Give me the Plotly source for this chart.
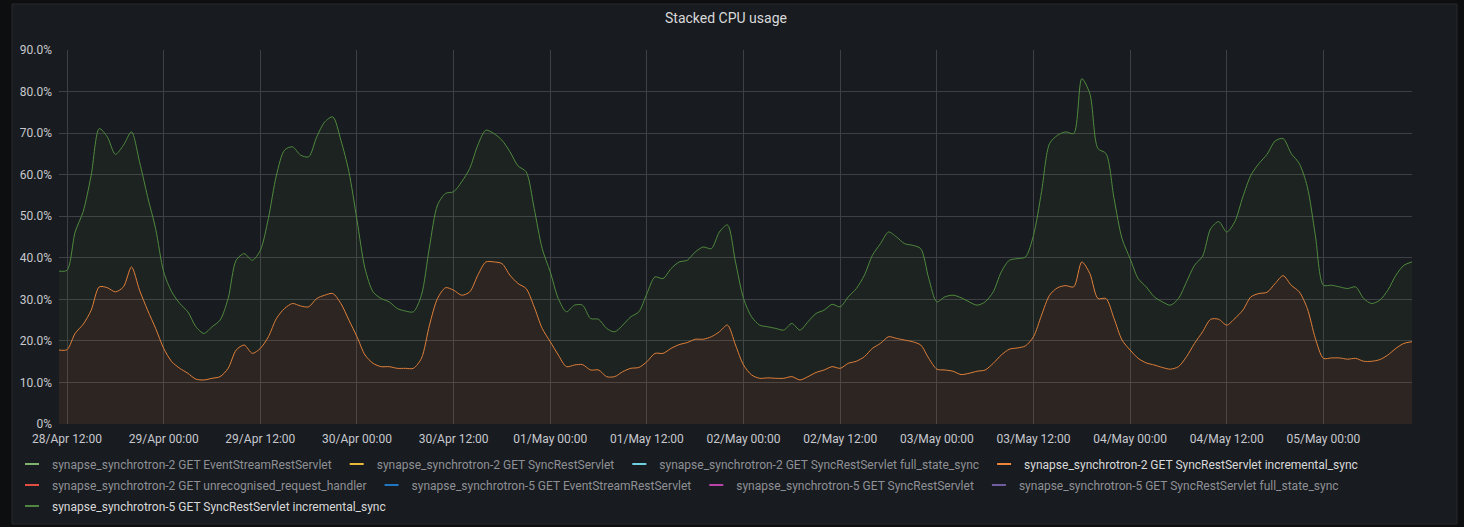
import pandas as pd
import plotly.graph_objects as go

# hourly samples, 28/Apr 11:00 -> 05/May 11:00
times = pd.date_range("2021-04-28 11:00", periods=169, freq="h")

# synapse_synchrotron-2 GET SyncRestServlet incremental_sync (bottom, orange)
sync2_incremental = [
    17.8, 17.9, 21.8, 24.0, 27.4, 33.0, 32.8, 31.8, 33.0, 37.8, 32.2, 27.4, 23.0, 18.2, 15.0, 13.4,
    12.2, 10.8, 10.6, 11.0, 11.4, 13.4, 17.8, 19.0, 17.0, 18.2, 21.0, 25.4, 27.8, 29.0, 28.4, 28.2,
    30.2, 31.0, 31.4, 29.0, 25.0, 21.0, 16.6, 14.6, 13.8, 13.8, 13.4, 13.4, 13.4, 15.8, 23.8, 30.2,
    32.8, 32.2, 31.0, 31.8, 35.8, 39.0, 39.0, 38.6, 35.8, 33.8, 32.6, 28.2, 23.0, 19.8, 16.6, 13.8,
    14.2, 14.3, 13.0, 13.0, 11.4, 11.4, 12.6, 13.4, 13.6, 15.0, 17.0, 17.0, 18.2, 19.1, 19.6, 20.4,
    20.4, 21.0, 22.2, 23.8, 19.0, 14.2, 11.8, 11.0, 11.1, 11.0, 11.0, 11.4, 10.6, 11.4, 12.4, 13.0,
    13.8, 13.4, 14.6, 15.1, 16.2, 18.2, 19.4, 21.0, 20.6, 20.2, 19.8, 19.0, 15.8, 13.2, 13.0, 12.7,
    11.9, 12.2, 12.7, 13.0, 14.6, 16.6, 18.0, 18.3, 18.8, 21.0, 26.2, 31.0, 32.8, 33.3, 33.0, 39.0,
    36.2, 30.2, 30.2, 25.4, 20.2, 17.8, 15.8, 14.7, 14.2, 13.6, 13.2, 13.8, 16.2, 19.4, 22.2, 25.2,
    25.2, 23.8, 25.4, 27.4, 30.6, 31.4, 31.7, 33.8, 35.7, 33.4, 31.8, 27.8, 20.6, 15.8, 15.9, 15.9,
    15.6, 15.8, 15.1, 15.1, 15.5, 16.6, 18.2, 19.4, 19.8,
]

# synapse_synchrotron-5 GET SyncRestServlet incremental_sync (stacked on top, green)
sync5_incremental = [
    19.0, 19.1, 24.4, 27.1, 32.5, 38.1, 36.3, 33.1, 34.1, 32.5, 30.9, 27.3, 24.0, 18.4, 16.8, 15.6,
    14.8, 12.6, 11.2, 12.4, 13.6, 16.8, 21.6, 22.0, 22.4, 23.6, 28.5, 34.5, 38.1, 37.7, 36.3, 36.1,
    38.9, 41.7, 42.5, 39.3, 35.7, 28.1, 20.8, 17.2, 16.4, 15.6, 14.4, 13.8, 13.6, 15.2, 18.8, 22.5,
    22.7, 23.7, 27.3, 29.7, 31.3, 31.7, 30.9, 29.7, 29.7, 28.3, 28.1, 23.7, 19.2, 16.8, 13.6, 13.2,
    14.4, 14.3, 12.4, 12.2, 11.6, 10.8, 11.2, 12.4, 13.4, 16.4, 18.4, 18.0, 19.2, 19.9, 19.8, 21.0,
    22.2, 21.2, 24.0, 24.1, 20.0, 16.0, 14.0, 12.8, 12.3, 12.0, 11.6, 12.8, 12.0, 13.2, 14.2, 14.4,
    15.0, 14.8, 16.0, 17.5, 19.6, 22.4, 24.0, 25.2, 24.4, 23.2, 23.2, 23.2, 19.2, 16.2, 17.6, 18.3,
    18.5, 17.2, 15.9, 16.4, 17.2, 20.0, 21.4, 21.5, 21.4, 24.4, 29.7, 36.5, 36.7, 37.0, 36.9, 44.1,
    43.3, 36.1, 34.9, 28.9, 24.4, 22.0, 19.2, 18.3, 16.4, 15.8, 15.4, 16.4, 18.0, 18.8, 18.2, 21.8,
    23.5, 22.4, 23.3, 27.3, 29.3, 31.3, 33.2, 34.3, 33.0, 31.7, 30.9, 29.3, 24.8, 17.6, 17.5, 17.1,
    17.0, 17.2, 15.1, 13.9, 14.3, 15.6, 17.6, 18.8, 19.2,
]

legend_names = [
    "synapse_synchrotron-2 GET EventStreamRestServlet",
    "synapse_synchrotron-2 GET SyncRestServlet",
    "synapse_synchrotron-2 GET SyncRestServlet full_state_sync",
    "synapse_synchrotron-2 GET SyncRestServlet incremental_sync",
    "synapse_synchrotron-2 GET unrecognised_request_handler",
    "synapse_synchrotron-5 GET EventStreamRestServlet",
    "synapse_synchrotron-5 GET SyncRestServlet",
    "synapse_synchrotron-5 GET SyncRestServlet full_state_sync",
    "synapse_synchrotron-5 GET SyncRestServlet incremental_sync",
]
legend_colors = ["#7EB26D", "#EAB839", "#6ED0E0", "#EF843C", "#E24D42",
                 "#1F78C1", "#BA43A9", "#705DA0", "#508642"]
legend_active = [False, False, False, True, False, False, False, False, True]
legend_rows = ["legend", "legend", "legend", "legend",
               "legend2", "legend2", "legend2", "legend2", "legend3"]

y_ticks = [0, 10, 20, 30, 40, 50, 60, 70, 80, 90]
y_tick_labels = ["0%", "10.0%", "20.0%", "30.0%", "40.0%", "50.0%",
                 "60.0%", "70.0%", "80.0%", "90.0%"]

fig = go.Figure()

fig.add_trace(go.Scatter(
    x=times, y=sync2_incremental, mode="lines", stackgroup="one",
    line=dict(color="#E0803A", width=1, shape="spline", smoothing=0.8),
    fillcolor="rgba(239,132,60,0.10)",
    name=legend_names[3], showlegend=False, hoverinfo="skip"))
fig.add_trace(go.Scatter(
    x=times, y=sync5_incremental, mode="lines", stackgroup="one",
    line=dict(color="#508a3e", width=1, shape="spline", smoothing=0.8),
    fillcolor="rgba(80,134,66,0.08)",
    name=legend_names[8], showlegend=False, hoverinfo="skip"))

for name, col, active, lg in zip(legend_names, legend_colors, legend_active, legend_rows):
    tc = "#d8d9da" if active else "#8e9095"
    fig.add_trace(go.Scatter(
        x=[None], y=[None], mode="markers",
        marker=dict(symbol="line-ew", size=10, line=dict(color=col, width=2)),
        name=f'<span style="color:{tc}">{name}</span>', showlegend=True, legend=lg))

# panel geometry (pixels) -> paper
FW, FH = 1464, 527
L, R, T, B = 59, 1412, 50, 424
W, H = R - L, B - T
def px(x):
    return (x - L) / W
def py(y):
    return (B - y) / H

fig.add_shape(type="rect", xref="paper", yref="paper",
              x0=px(12), x1=px(1457), y0=py(524), y1=py(4),
              fillcolor="#181b1f", line=dict(color="#26282c", width=1), layer="below")

def row_legend(ypix):
    return dict(orientation="h", xref="container", yref="container",
                x=12 / FW, xanchor="left", y=1 - ypix / FH, yanchor="middle",
                font=dict(size=12, color="#8e9095"), bgcolor="rgba(0,0,0,0)",
                borderwidth=0, traceorder="normal",
                itemclick=False, itemdoubleclick=False)

fig.update_layout(
    width=FW, height=FH,
    margin=dict(l=L, r=FW - R, t=T, b=FH - B, autoexpand=False),
    paper_bgcolor="#0d0e10", plot_bgcolor="rgba(0,0,0,0)",
    font=dict(family="Roboto", size=12, color="#c7c9cf"),
    title=dict(text="Stacked CPU usage", x=726 / FW, xref="container", xanchor="center",
               y=1 - 18 / FH, yref="container", yanchor="middle",
               font=dict(size=14, color="#d8d9da", family="Roboto")),
    showlegend=True,
    legend=row_legend(464),
    legend2=row_legend(485),
    legend3=row_legend(506),
    xaxis=dict(type="date", range=["2021-04-28 11:00", "2021-05-05 11:00"],
               tick0="2021-04-28 12:00", dtick=12 * 3600 * 1000,
               tickformat="%d/%b %H:%M", showgrid=True, gridcolor="#3e4045",
               gridwidth=1, zeroline=False, showline=False, ticks="",
               ticklabelstandoff=6, automargin=False,
               tickfont=dict(size=12, color="#c7c9cf")),
    yaxis=dict(range=[0, 90], tickvals=y_ticks, ticktext=y_tick_labels,
               showgrid=True, gridcolor="#3e4045", gridwidth=1, zeroline=False,
               showline=False, ticks="", ticklabelstandoff=6, automargin=False,
               tickfont=dict(size=12, color="#c7c9cf")),
    hovermode=False,
)

fig.write_html("out.html", config={"displayModeBar": False})
